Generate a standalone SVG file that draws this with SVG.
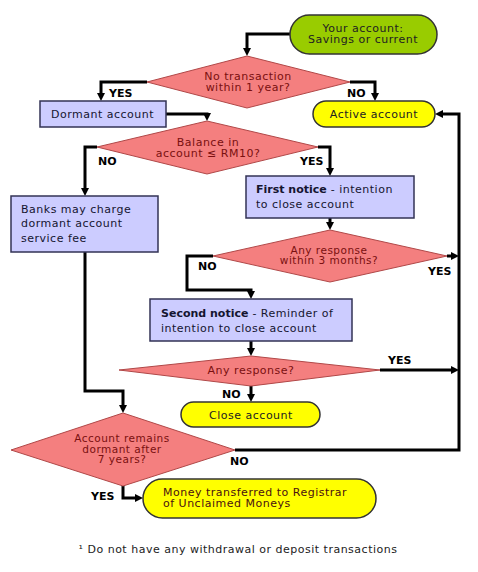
<svg xmlns="http://www.w3.org/2000/svg" width="478" height="572" viewBox="0 0 478 572">
<defs>
<marker id="ah" markerUnits="userSpaceOnUse" markerWidth="8" markerHeight="8" refX="4" refY="4" orient="auto">
<path d="M0,0 L8,4 L0,8 z" fill="#000"/>
</marker>
<style>
text{font-family:"DejaVu Sans",Verdana,sans-serif;font-size:11px;letter-spacing:0.5px}
.c{text-anchor:middle}
.s{font-size:10.5px}
.dia{fill:#f47f7f;stroke:#b04848;stroke-width:1}
.dt{fill:#7a1010}
.box{fill:#ccccff;stroke:#333355;stroke-width:1.5}
.bt{fill:#151530}
.yel{fill:#ffff00;stroke:#333;stroke-width:1.5}
.yt{fill:#222}
.lbl{font-weight:bold;fill:#000;letter-spacing:0}
.conn path{fill:none;stroke:#000;stroke-width:3;marker-end:url(#ah)}
</style>
</defs>
<rect width="478" height="572" fill="#fff"/>

<g id="connectors" class="conn">
<path d="M290,34 H247 V52"/>
<path d="M147,82 H101 V97"/>
<path d="M350,82 H375 V97"/>
<path d="M166,114 H207 V117"/>
<path d="M97,147 H85 V192"/>
<path d="M318,147 H330 V172"/>
<path d="M330,218 V226"/>
<path d="M213,256 H187 V290 H251 V295"/>
<path d="M447,256 H455"/>
<path d="M251,341 V352"/>
<path d="M380,370 H455"/>
<path d="M251,386 V398"/>
<path d="M85,252 V391 H123 V409"/>
<path d="M235,450 H459 V114 H439"/>
<path d="M123,486 V498 H139"/>
</g>

<g id="start">
<rect x="290" y="15" width="147" height="39" rx="19.5" fill="#99cc00" stroke="#333" stroke-width="1.5"/>
<text x="363" y="32" class="c" fill="#222">Your account:</text>
<text x="363" y="43" class="c" fill="#222">Savings or current</text>
</g>

<g id="d1">
<polygon points="247,56 350,82 247,108 147,82" class="dia"/>
<text x="248" y="80" class="c dt">No transaction</text>
<text x="248" y="91" class="c dt">within 1 year?</text>
</g>

<g id="dormant">
<rect x="40" y="101" width="126" height="26" class="box"/>
<text x="51" y="118" class="bt">Dormant account</text>
</g>

<g id="active">
<rect x="313" y="101" width="122" height="26" rx="13" class="yel"/>
<text x="374" y="118" class="c yt">Active account</text>
</g>

<g id="d2">
<polygon points="207,121 318,147 207,174 97,147" class="dia"/>
<text x="208" y="146" class="c dt">Balance in</text>
<text x="208" y="157" class="c dt">account ≤ RM10?</text>
</g>

<g id="banks">
<rect x="11" y="196" width="147" height="56" class="box"/>
<text x="21" y="213" class="bt">Banks may charge</text>
<text x="21" y="227" class="bt">dormant account</text>
<text x="21" y="242" class="bt">service fee</text>
</g>

<g id="first">
<rect x="246" y="176" width="168" height="42" class="box"/>
<text x="256" y="193" class="bt"><tspan font-weight="bold" letter-spacing="0">First notice</tspan> - intention</text>
<text x="256" y="208" class="bt">to close account</text>
</g>

<g id="d3">
<polygon points="330,230 447,256 330,282 213,256" class="dia"/>
<text x="329" y="253.5" class="c dt s">Any response</text>
<text x="329" y="264" class="c dt s">within 3 months?</text>
</g>

<g id="second">
<rect x="150" y="299" width="202" height="42" class="box"/>
<text x="161" y="317" class="bt"><tspan font-weight="bold" letter-spacing="0">Second notice</tspan> - Reminder of</text>
<text x="161" y="332" class="bt">intention to close account</text>
</g>

<g id="d4">
<polygon points="251,356 380,370 251,386 119,370" class="dia"/>
<text x="251" y="374" class="c dt">Any response?</text>
</g>

<g id="close">
<rect x="181" y="402" width="139" height="25" rx="12.5" class="yel"/>
<text x="251" y="419" class="c yt">Close account</text>
</g>

<g id="d5">
<polygon points="123,413 235,450 123,486 11,450" class="dia"/>
<text x="122" y="442" class="c dt s">Account remains</text>
<text x="122" y="452.5" class="c dt s">dormant after</text>
<text x="122" y="463" class="c dt s">7 years?</text>
</g>

<g id="money">
<rect x="143" y="479" width="233" height="39" rx="19.5" class="yel"/>
<text x="163" y="495.5" fill="#4a1010">Money transferred to Registrar</text>
<text x="163" y="506.5" fill="#4a1010">of Unclaimed Moneys</text>
</g>

<g id="labels">
<text x="109" y="97" class="lbl">YES</text>
<text x="347" y="97" class="lbl">NO</text>
<text x="98" y="165" class="lbl">NO</text>
<text x="300" y="165" class="lbl">YES</text>
<text x="198" y="270" class="lbl">NO</text>
<text x="428" y="275" class="lbl">YES</text>
<text x="388" y="364" class="lbl">YES</text>
<text x="222" y="398" class="lbl">NO</text>
<text x="230" y="465" class="lbl">NO</text>
<text x="91" y="500" class="lbl">YES</text>
</g>

<g id="footnote">
<text x="238" y="553" class="c" fill="#222">¹ Do not have any withdrawal or deposit transactions</text>
</g>
</svg>
